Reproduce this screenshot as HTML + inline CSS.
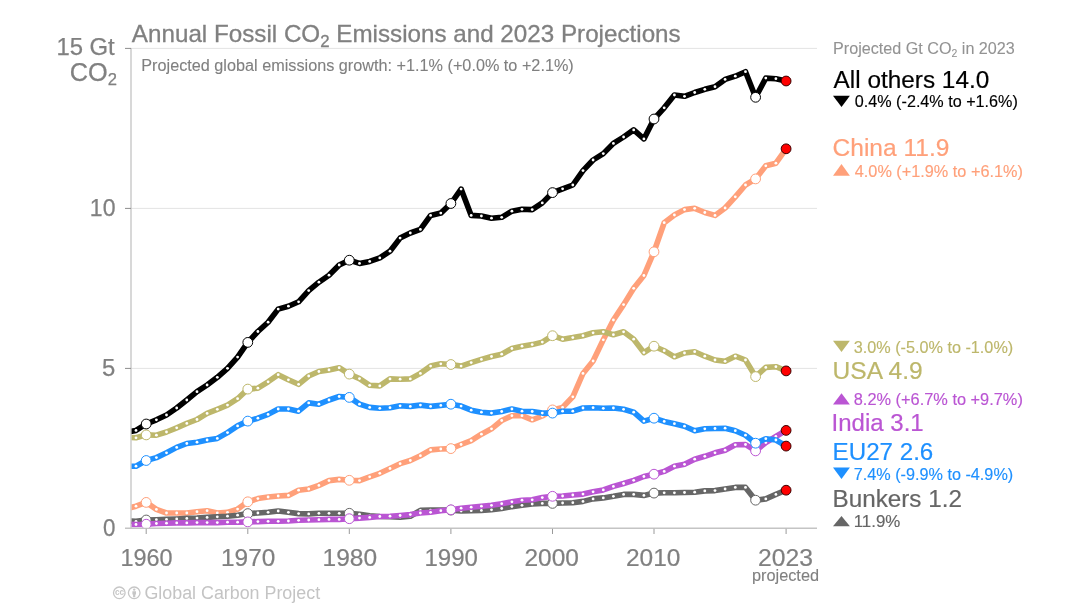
<!DOCTYPE html><html><head><meta charset="utf-8"><title>Annual Fossil CO2 Emissions and 2023 Projections</title>
<style>html,body{margin:0;padding:0;background:#fff;}svg{display:block;}text{font-family:"Liberation Sans",Arial,sans-serif;}</style></head><body>
<svg width="1080" height="607" viewBox="0 0 1080 607">
<rect width="1080" height="607" fill="#fff"/>
<defs><clipPath id="pc"><rect x="131.6" y="0" width="700" height="527.6"/></clipPath></defs>
<line x1="131" y1="48.4" x2="817" y2="48.4" stroke="#e3e3e3" stroke-width="1"/>
<line x1="131" y1="208.4" x2="817" y2="208.4" stroke="#e3e3e3" stroke-width="1"/>
<line x1="131" y1="368.4" x2="817" y2="368.4" stroke="#e3e3e3" stroke-width="1"/>
<line x1="131" y1="48" x2="131" y2="528.2" stroke="#c8c8c8" stroke-width="1.4"/>
<line x1="125" y1="528.2" x2="817" y2="528.2" stroke="#c4c4c4" stroke-width="1.4"/>
<line x1="125" y1="48.4" x2="131" y2="48.4" stroke="#8c8c8c" stroke-width="1"/>
<line x1="125" y1="208.4" x2="131" y2="208.4" stroke="#8c8c8c" stroke-width="1"/>
<line x1="125" y1="368.4" x2="131" y2="368.4" stroke="#8c8c8c" stroke-width="1"/>
<line x1="146.2" y1="528.8" x2="146.2" y2="534" stroke="#9a9a9a" stroke-width="1"/>
<line x1="247.8" y1="528.8" x2="247.8" y2="534" stroke="#9a9a9a" stroke-width="1"/>
<line x1="349.3" y1="528.8" x2="349.3" y2="534" stroke="#9a9a9a" stroke-width="1"/>
<line x1="450.9" y1="528.8" x2="450.9" y2="534" stroke="#9a9a9a" stroke-width="1"/>
<line x1="552.5" y1="528.8" x2="552.5" y2="534" stroke="#9a9a9a" stroke-width="1"/>
<line x1="654.0" y1="528.8" x2="654.0" y2="534" stroke="#9a9a9a" stroke-width="1"/>
<line x1="786.1" y1="528.8" x2="786.1" y2="534" stroke="#9a9a9a" stroke-width="1"/>
<g clip-path="url(#pc)">
<polyline points="125.9,508.8 136.0,506.2 146.2,502.4 156.4,509.4 166.5,513.0 176.7,513.0 186.8,513.0 197.0,511.7 207.1,510.7 217.3,513.0 227.5,512.3 237.6,509.1 247.8,501.8 257.9,498.6 268.1,497.0 278.2,496.0 288.4,495.4 298.6,490.2 308.7,489.0 318.9,485.4 329.0,480.6 339.2,479.4 349.3,480.3 359.5,480.6 369.7,476.8 379.8,473.3 390.0,468.5 400.1,463.7 410.3,460.5 420.4,455.7 430.6,449.9 440.8,449.0 450.9,448.6 461.1,444.5 471.2,440.6 481.4,434.2 491.5,428.8 501.7,420.5 511.9,415.7 522.0,415.7 532.2,419.8 542.3,416.0 552.5,409.9 562.6,407.4 572.8,396.8 583.0,373.4 593.1,361.0 603.3,339.8 613.4,320.0 623.6,304.6 633.7,288.3 643.9,275.5 654.0,251.8 664.2,222.7 674.4,215.0 684.5,209.6 694.7,208.3 704.8,212.5 715.0,215.4 725.1,208.0 735.3,196.8 745.5,185.0 755.6,178.9 765.8,165.8 775.9,163.2 786.1,148.8" fill="none" stroke="#FFA07A" stroke-width="5.6" stroke-linejoin="round" stroke-linecap="round"/>
<g fill="#fff"><circle cx="136.0" cy="506.2" r="1.4"/><circle cx="156.4" cy="509.4" r="1.4"/><circle cx="166.5" cy="513.0" r="1.4"/><circle cx="176.7" cy="513.0" r="1.4"/><circle cx="186.8" cy="513.0" r="1.4"/><circle cx="197.0" cy="511.7" r="1.4"/><circle cx="207.1" cy="510.7" r="1.4"/><circle cx="217.3" cy="513.0" r="1.4"/><circle cx="227.5" cy="512.3" r="1.4"/><circle cx="237.6" cy="509.1" r="1.4"/><circle cx="257.9" cy="498.6" r="1.4"/><circle cx="268.1" cy="497.0" r="1.4"/><circle cx="278.2" cy="496.0" r="1.4"/><circle cx="288.4" cy="495.4" r="1.4"/><circle cx="298.6" cy="490.2" r="1.4"/><circle cx="308.7" cy="489.0" r="1.4"/><circle cx="318.9" cy="485.4" r="1.4"/><circle cx="329.0" cy="480.6" r="1.4"/><circle cx="339.2" cy="479.4" r="1.4"/><circle cx="359.5" cy="480.6" r="1.4"/><circle cx="369.7" cy="476.8" r="1.4"/><circle cx="379.8" cy="473.3" r="1.4"/><circle cx="390.0" cy="468.5" r="1.4"/><circle cx="400.1" cy="463.7" r="1.4"/><circle cx="410.3" cy="460.5" r="1.4"/><circle cx="420.4" cy="455.7" r="1.4"/><circle cx="430.6" cy="449.9" r="1.4"/><circle cx="440.8" cy="449.0" r="1.4"/><circle cx="461.1" cy="444.5" r="1.4"/><circle cx="471.2" cy="440.6" r="1.4"/><circle cx="481.4" cy="434.2" r="1.4"/><circle cx="491.5" cy="428.8" r="1.4"/><circle cx="501.7" cy="420.5" r="1.4"/><circle cx="511.9" cy="415.7" r="1.4"/><circle cx="522.0" cy="415.7" r="1.4"/><circle cx="532.2" cy="419.8" r="1.4"/><circle cx="542.3" cy="416.0" r="1.4"/><circle cx="562.6" cy="407.4" r="1.4"/><circle cx="572.8" cy="396.8" r="1.4"/><circle cx="583.0" cy="373.4" r="1.4"/><circle cx="593.1" cy="361.0" r="1.4"/><circle cx="603.3" cy="339.8" r="1.4"/><circle cx="613.4" cy="320.0" r="1.4"/><circle cx="623.6" cy="304.6" r="1.4"/><circle cx="633.7" cy="288.3" r="1.4"/><circle cx="643.9" cy="275.5" r="1.4"/><circle cx="664.2" cy="222.7" r="1.4"/><circle cx="674.4" cy="215.0" r="1.4"/><circle cx="684.5" cy="209.6" r="1.4"/><circle cx="694.7" cy="208.3" r="1.4"/><circle cx="704.8" cy="212.5" r="1.4"/><circle cx="715.0" cy="215.4" r="1.4"/><circle cx="725.1" cy="208.0" r="1.4"/><circle cx="735.3" cy="196.8" r="1.4"/><circle cx="745.5" cy="185.0" r="1.4"/><circle cx="765.8" cy="165.8" r="1.4"/><circle cx="775.9" cy="163.2" r="1.4"/></g>
<g fill="#fff" stroke="#FFA07A" stroke-width="1.0"><circle cx="146.2" cy="502.4" r="4.9"/><circle cx="247.8" cy="501.8" r="4.9"/><circle cx="349.3" cy="480.3" r="4.9"/><circle cx="450.9" cy="448.6" r="4.9"/><circle cx="552.5" cy="409.9" r="4.9"/><circle cx="654.0" cy="251.8" r="4.9"/><circle cx="755.6" cy="178.9" r="4.9"/></g>
<circle cx="786.1" cy="148.8" r="4.9" fill="#ff0000" stroke="#3a0000" stroke-width="1"/>
<polyline points="125.9,521.0 136.0,521.3 146.2,520.0 156.4,519.7 166.5,519.4 176.7,519.0 186.8,518.4 197.0,518.1 207.1,517.4 217.3,516.8 227.5,516.2 237.6,515.2 247.8,513.6 257.9,513.0 268.1,512.3 278.2,511.0 288.4,512.3 298.6,513.6 308.7,513.9 318.9,513.3 329.0,513.3 339.2,513.3 349.3,513.3 359.5,514.2 369.7,515.8 379.8,516.5 390.0,516.8 400.1,517.1 410.3,516.2 420.4,510.4 430.6,510.1 440.8,510.1 450.9,510.1 461.1,511.0 471.2,510.7 481.4,510.4 491.5,509.8 501.7,508.5 511.9,506.6 522.0,505.3 532.2,504.0 542.3,503.4 552.5,503.4 562.6,503.0 572.8,502.7 583.0,501.4 593.1,498.9 603.3,497.9 613.4,496.3 623.6,494.4 633.7,494.4 643.9,495.4 654.0,493.1 664.2,492.8 674.4,492.8 684.5,492.5 694.7,492.2 704.8,490.9 715.0,490.6 725.1,489.0 735.3,487.4 745.5,487.4 755.6,500.2 765.8,498.9 775.9,494.4 786.1,490.2" fill="none" stroke="#666666" stroke-width="5.6" stroke-linejoin="round" stroke-linecap="round"/>
<g fill="#fff"><circle cx="136.0" cy="521.3" r="1.4"/><circle cx="156.4" cy="519.7" r="1.4"/><circle cx="166.5" cy="519.4" r="1.4"/><circle cx="176.7" cy="519.0" r="1.4"/><circle cx="186.8" cy="518.4" r="1.4"/><circle cx="197.0" cy="518.1" r="1.4"/><circle cx="207.1" cy="517.4" r="1.4"/><circle cx="217.3" cy="516.8" r="1.4"/><circle cx="227.5" cy="516.2" r="1.4"/><circle cx="237.6" cy="515.2" r="1.4"/><circle cx="257.9" cy="513.0" r="1.4"/><circle cx="268.1" cy="512.3" r="1.4"/><circle cx="278.2" cy="511.0" r="1.4"/><circle cx="288.4" cy="512.3" r="1.4"/><circle cx="298.6" cy="513.6" r="1.4"/><circle cx="308.7" cy="513.9" r="1.4"/><circle cx="318.9" cy="513.3" r="1.4"/><circle cx="329.0" cy="513.3" r="1.4"/><circle cx="339.2" cy="513.3" r="1.4"/><circle cx="359.5" cy="514.2" r="1.4"/><circle cx="369.7" cy="515.8" r="1.4"/><circle cx="379.8" cy="516.5" r="1.4"/><circle cx="390.0" cy="516.8" r="1.4"/><circle cx="400.1" cy="517.1" r="1.4"/><circle cx="410.3" cy="516.2" r="1.4"/><circle cx="420.4" cy="510.4" r="1.4"/><circle cx="430.6" cy="510.1" r="1.4"/><circle cx="440.8" cy="510.1" r="1.4"/><circle cx="461.1" cy="511.0" r="1.4"/><circle cx="471.2" cy="510.7" r="1.4"/><circle cx="481.4" cy="510.4" r="1.4"/><circle cx="491.5" cy="509.8" r="1.4"/><circle cx="501.7" cy="508.5" r="1.4"/><circle cx="511.9" cy="506.6" r="1.4"/><circle cx="522.0" cy="505.3" r="1.4"/><circle cx="532.2" cy="504.0" r="1.4"/><circle cx="542.3" cy="503.4" r="1.4"/><circle cx="562.6" cy="503.0" r="1.4"/><circle cx="572.8" cy="502.7" r="1.4"/><circle cx="583.0" cy="501.4" r="1.4"/><circle cx="593.1" cy="498.9" r="1.4"/><circle cx="603.3" cy="497.9" r="1.4"/><circle cx="613.4" cy="496.3" r="1.4"/><circle cx="623.6" cy="494.4" r="1.4"/><circle cx="633.7" cy="494.4" r="1.4"/><circle cx="643.9" cy="495.4" r="1.4"/><circle cx="664.2" cy="492.8" r="1.4"/><circle cx="674.4" cy="492.8" r="1.4"/><circle cx="684.5" cy="492.5" r="1.4"/><circle cx="694.7" cy="492.2" r="1.4"/><circle cx="704.8" cy="490.9" r="1.4"/><circle cx="715.0" cy="490.6" r="1.4"/><circle cx="725.1" cy="489.0" r="1.4"/><circle cx="735.3" cy="487.4" r="1.4"/><circle cx="745.5" cy="487.4" r="1.4"/><circle cx="765.8" cy="498.9" r="1.4"/><circle cx="775.9" cy="494.4" r="1.4"/></g>
<g fill="#fff" stroke="#666666" stroke-width="1.0"><circle cx="146.2" cy="520.0" r="4.9"/><circle cx="247.8" cy="513.6" r="4.9"/><circle cx="349.3" cy="513.3" r="4.9"/><circle cx="450.9" cy="510.1" r="4.9"/><circle cx="552.5" cy="503.4" r="4.9"/><circle cx="654.0" cy="493.1" r="4.9"/><circle cx="755.6" cy="500.2" r="4.9"/></g>
<circle cx="786.1" cy="490.2" r="4.9" fill="#ff0000" stroke="#3a0000" stroke-width="1"/>
<polyline points="125.9,524.2 136.0,524.5 146.2,524.2 156.4,523.5 166.5,523.2 176.7,522.9 186.8,522.9 197.0,522.6 207.1,522.6 217.3,522.6 227.5,522.2 237.6,522.2 247.8,521.9 257.9,521.6 268.1,521.3 278.2,521.3 288.4,521.0 298.6,520.3 308.7,520.0 318.9,519.7 329.0,519.4 339.2,519.4 349.3,518.7 359.5,518.1 369.7,517.4 379.8,516.5 390.0,516.2 400.1,515.5 410.3,514.6 420.4,513.0 430.6,512.3 440.8,510.7 450.9,509.8 461.1,508.2 471.2,507.2 481.4,506.2 491.5,505.3 501.7,503.7 511.9,501.8 522.0,500.2 532.2,499.8 542.3,497.6 552.5,496.3 562.6,496.0 572.8,495.0 583.0,494.1 593.1,491.8 603.3,489.9 613.4,486.4 623.6,483.5 633.7,480.3 643.9,476.5 654.0,474.2 664.2,471.4 674.4,466.2 684.5,464.3 694.7,459.2 704.8,456.3 715.0,452.8 725.1,450.2 735.3,444.8 745.5,444.5 755.6,450.9 765.8,442.6 775.9,436.5 786.1,430.4" fill="none" stroke="#BA55D3" stroke-width="5.6" stroke-linejoin="round" stroke-linecap="round"/>
<g fill="#fff"><circle cx="136.0" cy="524.5" r="1.4"/><circle cx="156.4" cy="523.5" r="1.4"/><circle cx="166.5" cy="523.2" r="1.4"/><circle cx="176.7" cy="522.9" r="1.4"/><circle cx="186.8" cy="522.9" r="1.4"/><circle cx="197.0" cy="522.6" r="1.4"/><circle cx="207.1" cy="522.6" r="1.4"/><circle cx="217.3" cy="522.6" r="1.4"/><circle cx="227.5" cy="522.2" r="1.4"/><circle cx="237.6" cy="522.2" r="1.4"/><circle cx="257.9" cy="521.6" r="1.4"/><circle cx="268.1" cy="521.3" r="1.4"/><circle cx="278.2" cy="521.3" r="1.4"/><circle cx="288.4" cy="521.0" r="1.4"/><circle cx="298.6" cy="520.3" r="1.4"/><circle cx="308.7" cy="520.0" r="1.4"/><circle cx="318.9" cy="519.7" r="1.4"/><circle cx="329.0" cy="519.4" r="1.4"/><circle cx="339.2" cy="519.4" r="1.4"/><circle cx="359.5" cy="518.1" r="1.4"/><circle cx="369.7" cy="517.4" r="1.4"/><circle cx="379.8" cy="516.5" r="1.4"/><circle cx="390.0" cy="516.2" r="1.4"/><circle cx="400.1" cy="515.5" r="1.4"/><circle cx="410.3" cy="514.6" r="1.4"/><circle cx="420.4" cy="513.0" r="1.4"/><circle cx="430.6" cy="512.3" r="1.4"/><circle cx="440.8" cy="510.7" r="1.4"/><circle cx="461.1" cy="508.2" r="1.4"/><circle cx="471.2" cy="507.2" r="1.4"/><circle cx="481.4" cy="506.2" r="1.4"/><circle cx="491.5" cy="505.3" r="1.4"/><circle cx="501.7" cy="503.7" r="1.4"/><circle cx="511.9" cy="501.8" r="1.4"/><circle cx="522.0" cy="500.2" r="1.4"/><circle cx="532.2" cy="499.8" r="1.4"/><circle cx="542.3" cy="497.6" r="1.4"/><circle cx="562.6" cy="496.0" r="1.4"/><circle cx="572.8" cy="495.0" r="1.4"/><circle cx="583.0" cy="494.1" r="1.4"/><circle cx="593.1" cy="491.8" r="1.4"/><circle cx="603.3" cy="489.9" r="1.4"/><circle cx="613.4" cy="486.4" r="1.4"/><circle cx="623.6" cy="483.5" r="1.4"/><circle cx="633.7" cy="480.3" r="1.4"/><circle cx="643.9" cy="476.5" r="1.4"/><circle cx="664.2" cy="471.4" r="1.4"/><circle cx="674.4" cy="466.2" r="1.4"/><circle cx="684.5" cy="464.3" r="1.4"/><circle cx="694.7" cy="459.2" r="1.4"/><circle cx="704.8" cy="456.3" r="1.4"/><circle cx="715.0" cy="452.8" r="1.4"/><circle cx="725.1" cy="450.2" r="1.4"/><circle cx="735.3" cy="444.8" r="1.4"/><circle cx="745.5" cy="444.5" r="1.4"/><circle cx="765.8" cy="442.6" r="1.4"/><circle cx="775.9" cy="436.5" r="1.4"/></g>
<g fill="#fff" stroke="#BA55D3" stroke-width="1.0"><circle cx="146.2" cy="524.2" r="4.9"/><circle cx="247.8" cy="521.9" r="4.9"/><circle cx="349.3" cy="518.7" r="4.9"/><circle cx="450.9" cy="509.8" r="4.9"/><circle cx="552.5" cy="496.3" r="4.9"/><circle cx="654.0" cy="474.2" r="4.9"/><circle cx="755.6" cy="450.9" r="4.9"/></g>
<circle cx="786.1" cy="430.4" r="4.9" fill="#ff0000" stroke="#3a0000" stroke-width="1"/>
<polyline points="125.9,466.2 136.0,466.2 146.2,460.5 156.4,457.6 166.5,452.8 176.7,447.4 186.8,443.5 197.0,442.2 207.1,440.0 217.3,438.4 227.5,432.6 237.6,425.9 247.8,421.1 257.9,418.2 268.1,414.4 278.2,409.0 288.4,409.0 298.6,411.2 308.7,402.9 318.9,404.2 329.0,400.0 339.2,396.5 349.3,397.4 359.5,404.2 369.7,407.4 379.8,408.3 390.0,407.7 400.1,405.8 410.3,406.4 420.4,405.1 430.6,406.4 440.8,405.4 450.9,404.2 461.1,406.1 471.2,410.2 481.4,412.2 491.5,413.1 501.7,411.5 511.9,409.0 522.0,411.2 532.2,411.5 542.3,413.1 552.5,413.1 562.6,411.2 572.8,411.2 583.0,408.0 593.1,407.7 603.3,408.3 613.4,408.0 623.6,409.3 633.7,412.2 643.9,421.1 654.0,418.2 664.2,421.4 674.4,423.7 684.5,426.2 694.7,430.7 704.8,428.8 715.0,428.5 725.1,428.2 735.3,430.7 745.5,435.2 755.6,443.2 765.8,438.7 775.9,440.0 786.1,446.1" fill="none" stroke="#1E90FF" stroke-width="5.6" stroke-linejoin="round" stroke-linecap="round"/>
<g fill="#fff"><circle cx="136.0" cy="466.2" r="1.4"/><circle cx="156.4" cy="457.6" r="1.4"/><circle cx="166.5" cy="452.8" r="1.4"/><circle cx="176.7" cy="447.4" r="1.4"/><circle cx="186.8" cy="443.5" r="1.4"/><circle cx="197.0" cy="442.2" r="1.4"/><circle cx="207.1" cy="440.0" r="1.4"/><circle cx="217.3" cy="438.4" r="1.4"/><circle cx="227.5" cy="432.6" r="1.4"/><circle cx="237.6" cy="425.9" r="1.4"/><circle cx="257.9" cy="418.2" r="1.4"/><circle cx="268.1" cy="414.4" r="1.4"/><circle cx="278.2" cy="409.0" r="1.4"/><circle cx="288.4" cy="409.0" r="1.4"/><circle cx="298.6" cy="411.2" r="1.4"/><circle cx="308.7" cy="402.9" r="1.4"/><circle cx="318.9" cy="404.2" r="1.4"/><circle cx="329.0" cy="400.0" r="1.4"/><circle cx="339.2" cy="396.5" r="1.4"/><circle cx="359.5" cy="404.2" r="1.4"/><circle cx="369.7" cy="407.4" r="1.4"/><circle cx="379.8" cy="408.3" r="1.4"/><circle cx="390.0" cy="407.7" r="1.4"/><circle cx="400.1" cy="405.8" r="1.4"/><circle cx="410.3" cy="406.4" r="1.4"/><circle cx="420.4" cy="405.1" r="1.4"/><circle cx="430.6" cy="406.4" r="1.4"/><circle cx="440.8" cy="405.4" r="1.4"/><circle cx="461.1" cy="406.1" r="1.4"/><circle cx="471.2" cy="410.2" r="1.4"/><circle cx="481.4" cy="412.2" r="1.4"/><circle cx="491.5" cy="413.1" r="1.4"/><circle cx="501.7" cy="411.5" r="1.4"/><circle cx="511.9" cy="409.0" r="1.4"/><circle cx="522.0" cy="411.2" r="1.4"/><circle cx="532.2" cy="411.5" r="1.4"/><circle cx="542.3" cy="413.1" r="1.4"/><circle cx="562.6" cy="411.2" r="1.4"/><circle cx="572.8" cy="411.2" r="1.4"/><circle cx="583.0" cy="408.0" r="1.4"/><circle cx="593.1" cy="407.7" r="1.4"/><circle cx="603.3" cy="408.3" r="1.4"/><circle cx="613.4" cy="408.0" r="1.4"/><circle cx="623.6" cy="409.3" r="1.4"/><circle cx="633.7" cy="412.2" r="1.4"/><circle cx="643.9" cy="421.1" r="1.4"/><circle cx="664.2" cy="421.4" r="1.4"/><circle cx="674.4" cy="423.7" r="1.4"/><circle cx="684.5" cy="426.2" r="1.4"/><circle cx="694.7" cy="430.7" r="1.4"/><circle cx="704.8" cy="428.8" r="1.4"/><circle cx="715.0" cy="428.5" r="1.4"/><circle cx="725.1" cy="428.2" r="1.4"/><circle cx="735.3" cy="430.7" r="1.4"/><circle cx="745.5" cy="435.2" r="1.4"/><circle cx="765.8" cy="438.7" r="1.4"/><circle cx="775.9" cy="440.0" r="1.4"/></g>
<g fill="#fff" stroke="#1E90FF" stroke-width="1.0"><circle cx="146.2" cy="460.5" r="4.9"/><circle cx="247.8" cy="421.1" r="4.9"/><circle cx="349.3" cy="397.4" r="4.9"/><circle cx="450.9" cy="404.2" r="4.9"/><circle cx="552.5" cy="413.1" r="4.9"/><circle cx="654.0" cy="418.2" r="4.9"/><circle cx="755.6" cy="443.2" r="4.9"/></g>
<circle cx="786.1" cy="446.1" r="4.9" fill="#ff0000" stroke="#3a0000" stroke-width="1"/>
<polyline points="125.9,437.1 136.0,437.8 146.2,434.9 156.4,435.2 166.5,432.0 176.7,427.8 186.8,423.4 197.0,419.5 207.1,413.4 217.3,409.3 227.5,405.1 237.6,398.7 247.8,389.1 257.9,388.2 268.1,381.8 278.2,374.7 288.4,379.8 298.6,384.3 308.7,376.0 318.9,371.5 329.0,369.9 339.2,367.7 349.3,374.1 359.5,378.6 369.7,385.3 379.8,385.9 390.0,378.9 400.1,379.2 410.3,378.9 420.4,373.4 430.6,366.1 440.8,363.8 450.9,364.5 461.1,366.1 471.2,362.6 481.4,359.4 491.5,356.5 501.7,354.2 511.9,348.5 522.0,346.2 532.2,344.6 542.3,342.1 552.5,335.7 562.6,339.2 572.8,337.6 583.0,335.7 593.1,332.8 603.3,331.8 613.4,334.7 623.6,331.8 633.7,339.2 643.9,352.6 654.0,346.2 664.2,350.7 674.4,356.8 684.5,353.0 694.7,351.7 704.8,356.2 715.0,360.0 725.1,361.3 735.3,356.2 745.5,360.0 755.6,376.6 765.8,367.4 775.9,366.7 786.1,370.9" fill="none" stroke="#BDB76B" stroke-width="5.6" stroke-linejoin="round" stroke-linecap="round"/>
<g fill="#fff"><circle cx="136.0" cy="437.8" r="1.4"/><circle cx="156.4" cy="435.2" r="1.4"/><circle cx="166.5" cy="432.0" r="1.4"/><circle cx="176.7" cy="427.8" r="1.4"/><circle cx="186.8" cy="423.4" r="1.4"/><circle cx="197.0" cy="419.5" r="1.4"/><circle cx="207.1" cy="413.4" r="1.4"/><circle cx="217.3" cy="409.3" r="1.4"/><circle cx="227.5" cy="405.1" r="1.4"/><circle cx="237.6" cy="398.7" r="1.4"/><circle cx="257.9" cy="388.2" r="1.4"/><circle cx="268.1" cy="381.8" r="1.4"/><circle cx="278.2" cy="374.7" r="1.4"/><circle cx="288.4" cy="379.8" r="1.4"/><circle cx="298.6" cy="384.3" r="1.4"/><circle cx="308.7" cy="376.0" r="1.4"/><circle cx="318.9" cy="371.5" r="1.4"/><circle cx="329.0" cy="369.9" r="1.4"/><circle cx="339.2" cy="367.7" r="1.4"/><circle cx="359.5" cy="378.6" r="1.4"/><circle cx="369.7" cy="385.3" r="1.4"/><circle cx="379.8" cy="385.9" r="1.4"/><circle cx="390.0" cy="378.9" r="1.4"/><circle cx="400.1" cy="379.2" r="1.4"/><circle cx="410.3" cy="378.9" r="1.4"/><circle cx="420.4" cy="373.4" r="1.4"/><circle cx="430.6" cy="366.1" r="1.4"/><circle cx="440.8" cy="363.8" r="1.4"/><circle cx="461.1" cy="366.1" r="1.4"/><circle cx="471.2" cy="362.6" r="1.4"/><circle cx="481.4" cy="359.4" r="1.4"/><circle cx="491.5" cy="356.5" r="1.4"/><circle cx="501.7" cy="354.2" r="1.4"/><circle cx="511.9" cy="348.5" r="1.4"/><circle cx="522.0" cy="346.2" r="1.4"/><circle cx="532.2" cy="344.6" r="1.4"/><circle cx="542.3" cy="342.1" r="1.4"/><circle cx="562.6" cy="339.2" r="1.4"/><circle cx="572.8" cy="337.6" r="1.4"/><circle cx="583.0" cy="335.7" r="1.4"/><circle cx="593.1" cy="332.8" r="1.4"/><circle cx="603.3" cy="331.8" r="1.4"/><circle cx="613.4" cy="334.7" r="1.4"/><circle cx="623.6" cy="331.8" r="1.4"/><circle cx="633.7" cy="339.2" r="1.4"/><circle cx="643.9" cy="352.6" r="1.4"/><circle cx="664.2" cy="350.7" r="1.4"/><circle cx="674.4" cy="356.8" r="1.4"/><circle cx="684.5" cy="353.0" r="1.4"/><circle cx="694.7" cy="351.7" r="1.4"/><circle cx="704.8" cy="356.2" r="1.4"/><circle cx="715.0" cy="360.0" r="1.4"/><circle cx="725.1" cy="361.3" r="1.4"/><circle cx="735.3" cy="356.2" r="1.4"/><circle cx="745.5" cy="360.0" r="1.4"/><circle cx="765.8" cy="367.4" r="1.4"/><circle cx="775.9" cy="366.7" r="1.4"/></g>
<g fill="#fff" stroke="#BDB76B" stroke-width="1.0"><circle cx="146.2" cy="434.9" r="4.9"/><circle cx="247.8" cy="389.1" r="4.9"/><circle cx="349.3" cy="374.1" r="4.9"/><circle cx="450.9" cy="364.5" r="4.9"/><circle cx="552.5" cy="335.7" r="4.9"/><circle cx="654.0" cy="346.2" r="4.9"/><circle cx="755.6" cy="376.6" r="4.9"/></g>
<circle cx="786.1" cy="370.9" r="4.9" fill="#ff0000" stroke="#3a0000" stroke-width="1"/>
<polyline points="125.9,432.3 136.0,430.4 146.2,424.0 156.4,419.8 166.5,415.0 176.7,408.0 186.8,400.0 197.0,391.7 207.1,385.0 217.3,377.3 227.5,368.3 237.6,357.1 247.8,342.4 257.9,331.5 268.1,322.2 278.2,309.1 288.4,306.2 298.6,301.8 308.7,290.6 318.9,282.2 329.0,275.2 339.2,265.0 349.3,260.2 359.5,263.4 369.7,261.4 379.8,257.9 390.0,251.2 400.1,238.1 410.3,233.0 420.4,229.4 430.6,215.4 440.8,213.1 450.9,203.5 461.1,189.1 471.2,215.4 481.4,216.0 491.5,218.2 501.7,217.3 511.9,211.2 522.0,209.3 532.2,209.6 542.3,202.9 552.5,192.6 562.6,188.8 572.8,185.0 583.0,170.6 593.1,160.0 603.3,153.6 613.4,143.4 623.6,137.0 633.7,129.9 643.9,138.9 654.0,119.0 664.2,107.8 674.4,95.0 684.5,96.3 694.7,92.5 704.8,89.3 715.0,86.7 725.1,79.4 735.3,76.2 745.5,71.7 755.6,97.3 765.8,78.1 775.9,78.7 786.1,81.0" fill="none" stroke="#000000" stroke-width="5.6" stroke-linejoin="round" stroke-linecap="round"/>
<g fill="#fff"><circle cx="136.0" cy="430.4" r="1.4"/><circle cx="156.4" cy="419.8" r="1.4"/><circle cx="166.5" cy="415.0" r="1.4"/><circle cx="176.7" cy="408.0" r="1.4"/><circle cx="186.8" cy="400.0" r="1.4"/><circle cx="197.0" cy="391.7" r="1.4"/><circle cx="207.1" cy="385.0" r="1.4"/><circle cx="217.3" cy="377.3" r="1.4"/><circle cx="227.5" cy="368.3" r="1.4"/><circle cx="237.6" cy="357.1" r="1.4"/><circle cx="257.9" cy="331.5" r="1.4"/><circle cx="268.1" cy="322.2" r="1.4"/><circle cx="278.2" cy="309.1" r="1.4"/><circle cx="288.4" cy="306.2" r="1.4"/><circle cx="298.6" cy="301.8" r="1.4"/><circle cx="308.7" cy="290.6" r="1.4"/><circle cx="318.9" cy="282.2" r="1.4"/><circle cx="329.0" cy="275.2" r="1.4"/><circle cx="339.2" cy="265.0" r="1.4"/><circle cx="359.5" cy="263.4" r="1.4"/><circle cx="369.7" cy="261.4" r="1.4"/><circle cx="379.8" cy="257.9" r="1.4"/><circle cx="390.0" cy="251.2" r="1.4"/><circle cx="400.1" cy="238.1" r="1.4"/><circle cx="410.3" cy="233.0" r="1.4"/><circle cx="420.4" cy="229.4" r="1.4"/><circle cx="430.6" cy="215.4" r="1.4"/><circle cx="440.8" cy="213.1" r="1.4"/><circle cx="461.1" cy="189.1" r="1.4"/><circle cx="471.2" cy="215.4" r="1.4"/><circle cx="481.4" cy="216.0" r="1.4"/><circle cx="491.5" cy="218.2" r="1.4"/><circle cx="501.7" cy="217.3" r="1.4"/><circle cx="511.9" cy="211.2" r="1.4"/><circle cx="522.0" cy="209.3" r="1.4"/><circle cx="532.2" cy="209.6" r="1.4"/><circle cx="542.3" cy="202.9" r="1.4"/><circle cx="562.6" cy="188.8" r="1.4"/><circle cx="572.8" cy="185.0" r="1.4"/><circle cx="583.0" cy="170.6" r="1.4"/><circle cx="593.1" cy="160.0" r="1.4"/><circle cx="603.3" cy="153.6" r="1.4"/><circle cx="613.4" cy="143.4" r="1.4"/><circle cx="623.6" cy="137.0" r="1.4"/><circle cx="633.7" cy="129.9" r="1.4"/><circle cx="643.9" cy="138.9" r="1.4"/><circle cx="664.2" cy="107.8" r="1.4"/><circle cx="674.4" cy="95.0" r="1.4"/><circle cx="684.5" cy="96.3" r="1.4"/><circle cx="694.7" cy="92.5" r="1.4"/><circle cx="704.8" cy="89.3" r="1.4"/><circle cx="715.0" cy="86.7" r="1.4"/><circle cx="725.1" cy="79.4" r="1.4"/><circle cx="735.3" cy="76.2" r="1.4"/><circle cx="745.5" cy="71.7" r="1.4"/><circle cx="765.8" cy="78.1" r="1.4"/><circle cx="775.9" cy="78.7" r="1.4"/></g>
<g fill="#fff" stroke="#000000" stroke-width="1.0"><circle cx="146.2" cy="424.0" r="4.9"/><circle cx="247.8" cy="342.4" r="4.9"/><circle cx="349.3" cy="260.2" r="4.9"/><circle cx="450.9" cy="203.5" r="4.9"/><circle cx="552.5" cy="192.6" r="4.9"/><circle cx="654.0" cy="119.0" r="4.9"/><circle cx="755.6" cy="97.3" r="4.9"/></g>
<circle cx="786.1" cy="81.0" r="4.9" fill="#ff0000" stroke="#3a0000" stroke-width="1"/>
</g>
<text id="title" x="131.89" y="41.7" font-size="23.8" fill="#808080" stroke="#808080" stroke-width="0.3" textLength="548.78" lengthAdjust="spacingAndGlyphs">Annual Fossil CO<tspan font-size="16.5" dy="5">2</tspan><tspan dy="-5"> Emissions and 2023 Projections</tspan></text>
<text id="subtitle" x="141.29" y="70.6" font-size="16" fill="#808080" stroke="#808080" stroke-width="0.1" textLength="432.48" lengthAdjust="spacingAndGlyphs">Projected global emissions growth: +1.1% (+0.0% to +2.1%)</text>
<text id="y15" x="56.39" y="55.4" font-size="24.2" fill="#808080" stroke="#808080" stroke-width="0.25" textLength="58.39" lengthAdjust="spacingAndGlyphs">15 Gt</text>
<text id="yco2" x="69.72" y="80.8" font-size="25.2" fill="#808080" stroke="#808080" stroke-width="0.25" textLength="47.15" lengthAdjust="spacingAndGlyphs">CO<tspan font-size="16.5" dy="4.6">2</tspan></text>
<text id="y10" x="89.86" y="215.9" font-size="24.2" fill="#808080" stroke="#808080" stroke-width="0.25" textLength="25.64" lengthAdjust="spacingAndGlyphs">10</text>
<text id="y5" x="102.00" y="375.6" font-size="24.2" fill="#808080" stroke="#808080" stroke-width="0.25" textLength="13.27" lengthAdjust="spacingAndGlyphs">5</text>
<text id="y0" x="103.00" y="535.6" font-size="24.2" fill="#808080" stroke="#808080" stroke-width="0.25" textLength="12.42" lengthAdjust="spacingAndGlyphs">0</text>
<text id="x1960" x="120.42" y="565.7" font-size="24" fill="#808080" stroke="#808080" stroke-width="0.2" textLength="52.16" lengthAdjust="spacingAndGlyphs">1960</text>
<text id="x1970" x="221.07" y="565.7" font-size="24" fill="#808080" stroke="#808080" stroke-width="0.2" textLength="54.25" lengthAdjust="spacingAndGlyphs">1970</text>
<text id="x1980" x="322.53" y="565.7" font-size="24" fill="#808080" stroke="#808080" stroke-width="0.2" textLength="54.48" lengthAdjust="spacingAndGlyphs">1980</text>
<text id="x1990" x="424.48" y="565.7" font-size="24" fill="#808080" stroke="#808080" stroke-width="0.2" textLength="53.41" lengthAdjust="spacingAndGlyphs">1990</text>
<text id="x2000" x="524.51" y="565.7" font-size="24" fill="#808080" stroke="#808080" stroke-width="0.2" textLength="54.45" lengthAdjust="spacingAndGlyphs">2000</text>
<text id="x2010" x="625.98" y="565.7" font-size="24" fill="#808080" stroke="#808080" stroke-width="0.2" textLength="54.42" lengthAdjust="spacingAndGlyphs">2010</text>
<text id="x2023" x="758.07" y="565.7" font-size="24" fill="#808080" stroke="#808080" stroke-width="0.2" textLength="54.85" lengthAdjust="spacingAndGlyphs">2023</text>
<text id="projected" x="751.96" y="580.6" font-size="16" fill="#808080" stroke="#808080" stroke-width="0.1" textLength="67.09" lengthAdjust="spacingAndGlyphs">projected</text>
<text id="footer" x="144.41" y="599.3" font-size="18" fill="#c4c4c4" textLength="175.69" lengthAdjust="spacingAndGlyphs">Global Carbon Project</text>
<text id="leghead" x="833.07" y="53.9" font-size="16.3" fill="#939393" stroke="#939393" stroke-width="0.1" textLength="181.74" lengthAdjust="spacingAndGlyphs">Projected Gt CO<tspan font-size="10.5" dy="3">2</tspan><tspan dy="-3"> in 2023</tspan></text>
<text id="Lothers" x="833.60" y="88.0" font-size="24.8" fill="#000000" stroke="#000000" stroke-width="0.2" textLength="155.65" lengthAdjust="spacingAndGlyphs">All others 14.0</text>
<text id="Sothers" x="854.80" y="107.3" font-size="16" fill="#000000" stroke="#000000" stroke-width="0.15" textLength="163.05" lengthAdjust="spacingAndGlyphs">0.4% (-2.4% to +1.6%)</text>
<text id="Lchina" x="832.58" y="156.4" font-size="24.8" fill="#FFA07A" stroke="#FFA07A" stroke-width="0.2" textLength="116.75" lengthAdjust="spacingAndGlyphs">China 11.9</text>
<text id="Schina" x="854.80" y="176.7" font-size="16" fill="#FFA07A" stroke="#FFA07A" stroke-width="0.15" textLength="168.05" lengthAdjust="spacingAndGlyphs">4.0% (+1.9% to +6.1%)</text>
<text id="Lusa" x="832.58" y="378.7" font-size="24.8" fill="#BDB76B" stroke="#BDB76B" stroke-width="0.2" textLength="90.11" lengthAdjust="spacingAndGlyphs">USA 4.9</text>
<text id="Susa" x="853.78" y="352.9" font-size="16" fill="#BDB76B" stroke="#BDB76B" stroke-width="0.15" textLength="159.43" lengthAdjust="spacingAndGlyphs">3.0% (-5.0% to -1.0%)</text>
<text id="Lindia" x="831.60" y="431.2" font-size="24.8" fill="#BA55D3" stroke="#BA55D3" stroke-width="0.2" textLength="92.11" lengthAdjust="spacingAndGlyphs">India 3.1</text>
<text id="Sindia" x="853.79" y="404.6" font-size="16" fill="#BA55D3" stroke="#BA55D3" stroke-width="0.15" textLength="169.06" lengthAdjust="spacingAndGlyphs">8.2% (+6.7% to +9.7%)</text>
<text id="Leu" x="832.61" y="459.9" font-size="24.8" fill="#1E90FF" stroke="#1E90FF" stroke-width="0.2" textLength="100.69" lengthAdjust="spacingAndGlyphs">EU27 2.6</text>
<text id="Seu" x="853.78" y="479.9" font-size="16" fill="#1E90FF" stroke="#1E90FF" stroke-width="0.15" textLength="159.43" lengthAdjust="spacingAndGlyphs">7.4% (-9.9% to -4.9%)</text>
<text id="Lbunkers" x="832.59" y="506.9" font-size="24.8" fill="#666666" stroke="#666666" stroke-width="0.2" textLength="129.31" lengthAdjust="spacingAndGlyphs">Bunkers 1.2</text>
<text id="Sbunkers" x="853.73" y="526.7" font-size="16" fill="#666666" stroke="#666666" stroke-width="0.15" textLength="46.69" lengthAdjust="spacingAndGlyphs">11.9%</text>
<g fill="none" stroke="#c6c6c6" stroke-width="1.3"><circle cx="119.3" cy="592.8" r="5.8"/><circle cx="134.2" cy="592.8" r="5.8"/></g>
<text x="119.4" y="595.2" font-size="8.2" font-weight="bold" fill="#c6c6c6" text-anchor="middle" letter-spacing="-0.2">cc</text>
<g fill="#c6c6c6"><circle cx="134.2" cy="589.6" r="1.2"/><path d="M132.4 591.2h3.6v3.4h-0.7v2.6h-2.2v-2.6h-0.7z"/></g>
<polygon points="833.0,95.7 849.9,95.7 841.5,107.0" fill="#000000"/>
<polygon points="833.0,175.8 849.9,175.8 841.5,164.0" fill="#FFA07A"/>
<polygon points="833.0,340.8 849.9,340.8 841.5,352.1" fill="#BDB76B"/>
<polygon points="833.0,404.4 849.9,404.4 841.5,393.3" fill="#BA55D3"/>
<polygon points="833.0,467.6 849.9,467.6 841.5,478.9" fill="#1E90FF"/>
<polygon points="833.0,526.3 849.9,526.3 841.5,516.0" fill="#666666"/>
</svg></body></html>
